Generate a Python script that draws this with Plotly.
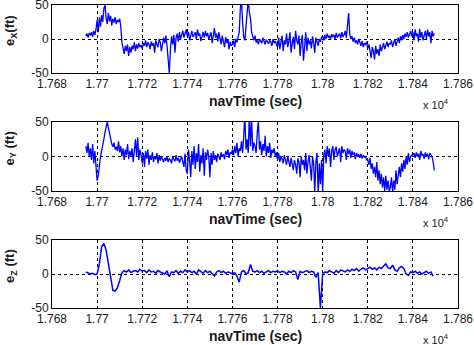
import plotly.graph_objects as go

# Horizontal errors are logged every 0.5 s, vertical error every 1 s
time_half_s = [17695 + 0.5 * k for k in range(310)]
time_1s = list(range(17695, 17850))

err_x = [
    4, 8, 2, 9, 5, 10, 3, 12, 6, 14,
    28, 10, 32, 18, 35, 25, 45, 50, 30, 22, 38, 26, 34, 20, 30, 24, 32, 22, 28, 25,
    30, 18, -5, -15, -22, -10, -18, -8, -25, -12, -20, -10, -15, -5, -18, -8, -14, -6, -12, -9,
    -14, -6, -10, -2, -12, -5, -8, -15, -4, -10, -6, -20, -2, -8, -12, 0, -5, -18, -3, 2,
    -6, 5, -10, -35, -50, -15, 4, -8, 6, -20, 2, 8, -4, 10, 0, 6, 12, 2, 8, 14,
    4, 10, -2, 8, 12, 3, 6, 10, 0, 14, 5, 8, -3, 6, 10, 2, 12, 4, 9, 0,
    6, 10, -6, 4, 16, 2, 8, -4, 10, 0, -8, 5, -2, -12, 3, -6, 0, -15, -4, -10,
    -8, -2, -12, 0, -5, 5, 10, 45, 58, 25, 2, -2, 20, 48, 58, 40, 30, 10, 3, -2,
    5, -5, -2, -8, 0, -4, -6, 2, -3, -8, -1, -5, -7, -2, -4, -10, 0, -6, -3, -8,
    -12, 2, -15, -5, 5, -18, -2, -8, 8, -12, -4, 10, -20, -6, 3, -15, 12, -2, -8, 5,
    -25, -5, 6, -32, -10, 10, -18, 2, -8, -2, -14, 4, -6, -20, 2, -5, -10, 0, -4, 2,
    4, -2, 6, 0, 8, 2, 5, -1, 7, 3, 6, 0, 9, 2, 5, 8, 1, 10, 3, 6,
    12, 2, 20, 38, 8, 0, 4, -4, 2, -6, -2, -8, 0, -5, -10, -3, -12, -6, -8, -4,
    -14, -8, -20, -28, -12, -18, -30, -10, -22, -15, -25, -8, -18, -12, -6, -15, -10, -4, -12, -6,
    -8, -2, -12, -5, 0, -10, -3, 2, -6, 4, -2, 6, 0, 8, 3, 10, 2, 6, 12, 4,
    10, -2, 14, 4, 8, -4, 15, 2, 10, -2, 6, 12, 0, 14, 4, 10, -6, 12, 4, 8,
]

err_y = [
    15, 5, 20, 0, 12, -5, 18, -10, 8, -15,
    -35, -28, -12, 0, 8, 15, 25, 35, 45, 50, 42, 32, 24, 18, 14, 20, 10, 14, 8, 22,
    6, 15, 0, 12, -5, 10, 2, 18, -4, 8, 0, 12, -8, 10, 25, 0, 28, -5, 10, 2,
    -10, 5, -15, 8, -3, 10, -12, 2, -5, 6, -8, 0, -4, 5, -10, 2, -6, 0, -3, -8,
    -2, -6, 0, -8, -3, -5, -10, 0, -4, -7, 2, -6, -2, -9, -4, 0, -8, -15, 4, -20,
    -25, 10, -5, -30, 8, -12, 15, -18, 5, -8, 18, -22, 2, -10, 12, -28, 6, -5, 10, 0,
    -30, 5, -12, 8, -5, 2, -8, 4, 0, -5, 6, 0, 3, -4, 8, 2, 10, -2, 6, 4,
    10, 2, 15, 5, 20, 0, 12, 8, 22, 5, 30, 60, 10, 25, 5, 62, 15, 55, 8, 20,
    15, 5, 35, 52, 10, 22, 2, 18, 8, 30, 0, 15, 5, 20, -2, 10, 5, 12, 0, 6,
    -5, 5, -8, 0, -3, -10, 2, -6, -12, 0, -8, -15, -2, -10, -20, -5, -12, -25, -3, -8,
    -30, 0, -12, -5, -20, 5, -25, -8, 2, -15, -35, 0, -10, -52, -8, 5, -55, -10, -40, -5,
    -52, 2, 10, -10, 15, 0, 12, -15, 8, 15, -5, 10, 14, 0, 6, 12, -8, 15, 5, 10,
    8, -5, 12, 4, 10, -2, 8, 2, 6, -4, 5, 0, 3, -2, 4, -3, 2, -1, 0, -5,
    -5, -12, -2, -18, -10, -25, -15, -30, -8, -35, -20, -40, -25, -45, -30, -50, -28, -48, -35, -50,
    -45, -30, -52, -35, -48, -20, -40, -25, -15, -30, -10, -22, -5, -18, 0, -12, 5, -8, 0, 2,
    2, 5, -2, 6, 0, 4, -5, 8, 2, 3, -3, 6, 0, 4, -4, 5, 2, 0, -8, -20,
]

err_z = [
    3, 2, 0, 1, -1,
    0, 15, 40, 45, 35, 15, -10, -24, -25, -20,
    -10, 2, 5, 3, 6, 2, 4, 5, 3, 7,
    4, 5, 2, 6, 3, 4, 1, 5, 3, 2,
    0, 4, -4, 3, 2, 5, 1, 4, 2, 6,
    3, 5, 2, 4, 0, 6, 3, 1, 5, 2,
    4, 0, -3, 3, 5, 2, 4, 1, 3, 2,
    0, 2, -3, -12, 3, 5, 0, 2, 14, 4,
    3, 5, 2, 4, 1, 3, 5, 2, 4, 3,
    5, 2, 4, 3, 0, 4, 2, 5, 3, -8,
    4, 2, 3, 5, 2, 4, 3, -5, 2, -50,
    0, 3, 2, 5, 3, 1, 5, 2, 6, 4,
    3, 6, 4, 7, 5, 8, 4, 7, 9, 6,
    8, 10, 7, 9, 6, 10, 8, 11, 15, 9,
    8, 13, 6, 4, 9, 11, 8, 0, -2, 3,
    2, 4, 1, 3, 0, 2, 4, 1, 3, -3,
]

x_tick_vals = [17680, 17700, 17720, 17740, 17760, 17780, 17800, 17820, 17840, 17860]
x_tick_text = ["1.768", "1.77", "1.772", "1.774", "1.776", "1.778", "1.78", "1.782", "1.784", "1.786"]
y_tick_vals = [-50, 0, 50]
y_tick_text = ["-50", "0", "50"]
y_titles = ["e<sub>X</sub>(ft)", "e<sub>Y</sub> (ft)", "e<sub>Z</sub> (ft)"]
series = [(time_half_s, err_x, 1.3), (time_half_s, err_y, 1.3), (time_1s, err_z, 1.5)]

W, H = 474, 345
FONT = "Liberation Sans, Arial, sans-serif"
TXT = "#1a1a1a"

def px(x):
    return x / W

def py(y):
    return 1 - y / H

# panel boxes in pixels: (top, bottom)
panels = [(5, 73), (122, 191), (240, 308)]
left, right = 52, 458

fig = go.Figure()
annotations = []
for i, ((t, vals, lw), (top, bot)) in enumerate(zip(series, panels)):
    n = "" if i == 0 else str(i + 1)
    fig.add_trace(go.Scatter(
        x=t, y=vals, mode="lines",
        line=dict(color="#0000ff", width=lw),
        xaxis="x" + n, yaxis="y" + n, showlegend=False,
    ))
    axis_common = dict(
        showline=True, mirror=True, linecolor="black", linewidth=1,
        showgrid=True, gridcolor="black", griddash="dot", gridwidth=1,
        zeroline=False, ticks="", automargin=False,
        ticklabeloverflow="allow",
        tickfont=dict(family=FONT, size=12, color=TXT),
    )
    fig.update_layout(**{
        "xaxis" + n: dict(
            domain=[px(left), px(right)], anchor="y" + n,
            range=[17680, 17860], tickmode="array",
            tickvals=x_tick_vals, ticktext=x_tick_text, **axis_common,
        ),
        "yaxis" + n: dict(
            domain=[py(bot), py(top)], anchor="x" + n,
            range=[-50, 50], tickmode="array",
            tickvals=y_tick_vals, ticktext=y_tick_text, **axis_common,
        ),
    })
    mid = (top + bot) / 2
    annotations.append(dict(
        text=y_titles[i], x=px(10), y=py(mid - 8), xref="paper", yref="paper",
        xanchor="center", yanchor="middle",
        textangle=-90, showarrow=False,
        font=dict(family=FONT, size=13, color=TXT, weight="bold"),
    ))
    annotations.append(dict(
        text="navTime (sec)", x=px((left + right) / 2), y=py(bot + 28),
        xref="paper", yref="paper", xanchor="center", yanchor="middle",
        showarrow=False,
        font=dict(family=FONT, size=14, color=TXT, weight="bold"),
    ))
    annotations.append(dict(
        text="x 10<sup>4</sup>", x=px(436), y=py(bot + 31),
        xref="paper", yref="paper", xanchor="center", yanchor="middle",
        showarrow=False,
        font=dict(family=FONT, size=11, color=TXT),
    ))

fig.update_layout(
    width=W, height=H,
    margin=dict(l=0, r=0, t=0, b=0),
    paper_bgcolor="white", plot_bgcolor="white",
    annotations=annotations,
)

fig.write_html("out.html")
